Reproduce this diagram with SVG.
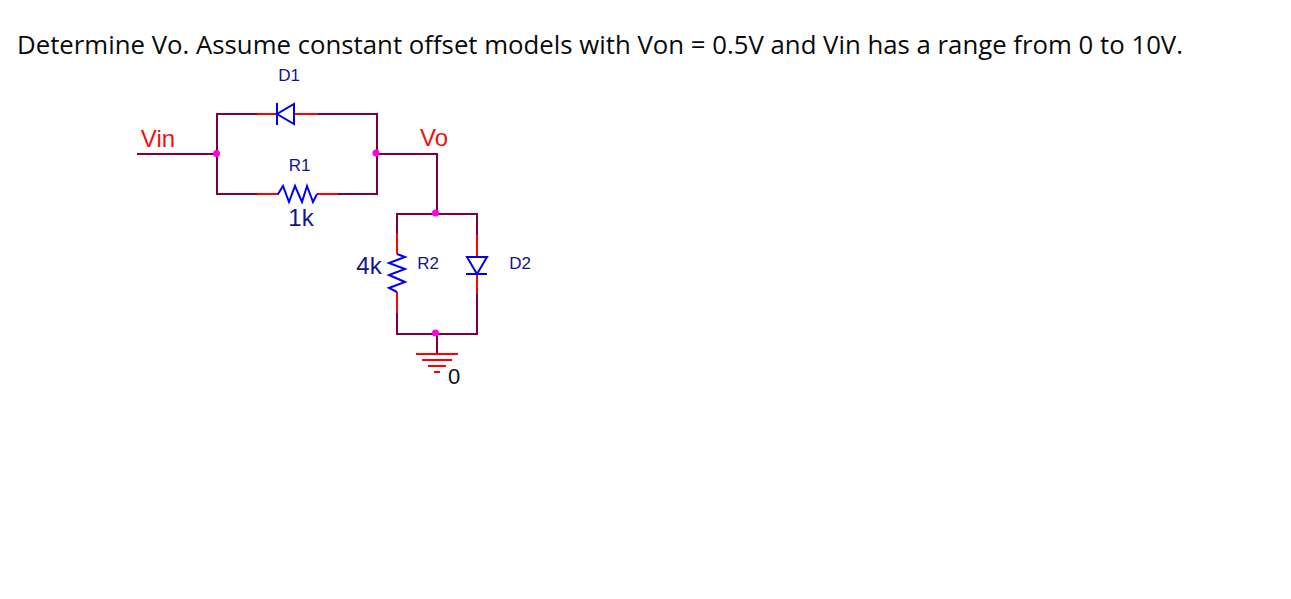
<svg xmlns="http://www.w3.org/2000/svg" width="1291" height="599" viewBox="0 0 1291 599">
<style>
.w{fill:none;stroke:#7b0040;stroke-width:2;stroke-linecap:square}
.r{fill:none;stroke:#f00;stroke-width:2}
.b{fill:none;stroke:#0000f0;stroke-width:2}
.j{fill:#ff00e0}
.t{font-family:"Liberation Sans",Arial,sans-serif}
.n{fill:#14148c;font-size:17px}
.v{fill:#14148c;font-size:24px}
.l{fill:#f01010;font-size:24px}
</style>
<rect width="1291" height="599" fill="#fff"/>
<text id="title" x="17" y="54" font-family="'Open Sans',sans-serif" font-size="25" textLength="1166" lengthAdjust="spacingAndGlyphs" fill="#0a0a0a">Determine Vo. Assume constant offset models with Von = 0.5V and Vin has a range from 0 to 10V.</text>
<g id="connectors">
<path class="w" d="M138 154H217M217 154V114H257M317 114H377V194H337M277 194H217V154M377 154H437V214M397 233V214H477V235M397 313V334H477V294M437 334V354"/>
</g>
<g id="D1">
<path class="r" d="M257 114H277M294 114H318"/>
<path class="b" d="M277 103V125M294 104V124L277 114Z"/>
<text class="t n" x="289" y="81" text-anchor="middle">D1</text>
</g>
<g id="R1">
<path class="r" d="M257 194H279M317 194H338"/>
<path class="b" d="M278 194L283 186L289 202L295 186L302 202L307 186L313 202L317 194"/>
<text class="t n" x="299.500" y="171" text-anchor="middle">R1</text>
<text class="t v" x="301" y="226" text-anchor="middle">1k</text>
</g>
<g id="R2">
<path class="r" d="M397 233V254M397 292V313"/>
<path class="b" d="M397 254L405 257L389 263L405 269L389 275L405 282L389 288L397 292"/>
<text class="t n" x="428" y="269" text-anchor="middle">R2</text>
<text class="t v" x="369" y="274" text-anchor="middle">4k</text>
</g>
<g id="D2">
<path class="r" d="M477 235V257M477 274V294"/>
<path class="b" d="M466 274H487M467 257H487L477 274Z"/>
<text class="t n" x="520" y="269" text-anchor="middle">D2</text>
</g>
<g id="ground">
<path class="r" d="M416 354H458M422 360H452M428 366H446M434 372H440"/>
<text class="t" x="454" y="384" text-anchor="middle" font-size="22" fill="#101010">0</text>
</g>
<g id="Vin"><text class="t l" x="158" y="147" text-anchor="middle">Vin</text></g>
<g id="Vo"><text class="t l" x="434" y="146" text-anchor="middle">Vo</text></g>
<g id="junctions">
<circle class="j" cx="216.500" cy="153.500" r="3.500"/>
<circle class="j" cx="376" cy="153" r="3.500"/>
<circle class="j" cx="435.500" cy="213" r="3.500"/>
<circle class="j" cx="435.500" cy="333" r="3.500"/>
</g>
</svg>
